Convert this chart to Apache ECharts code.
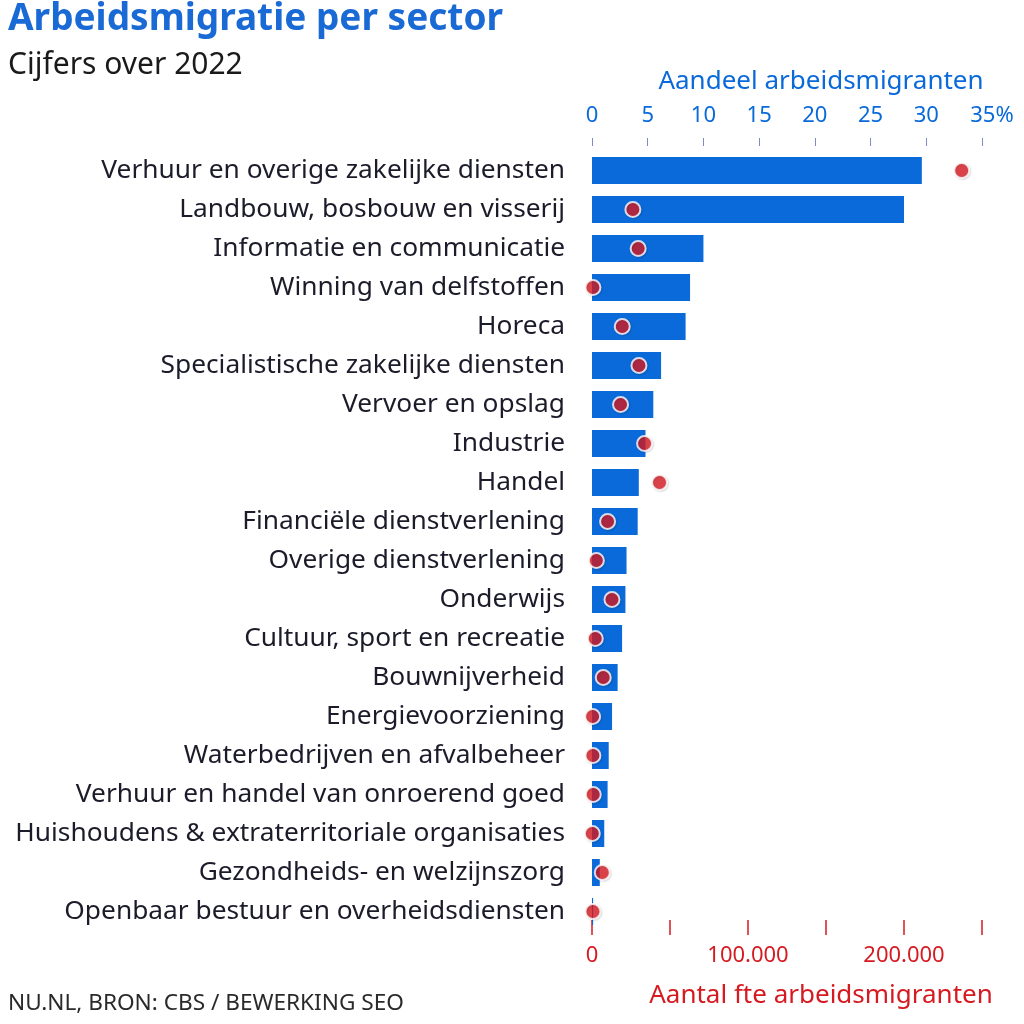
<!DOCTYPE html>
<html>
<head>
<meta charset="utf-8">
<script src="https://cdn.jsdelivr.net/npm/echarts@6/dist/echarts.min.js"></script>
<style>
  html, body { margin: 0; padding: 0; background: #fff; }
  #chart { width: 1024px; height: 1024px; }
</style>
</head>
<body>
<div id="chart"></div>
<script>
// sectoren, van boven naar beneden
const sectors = [
  'Verhuur en overige zakelijke diensten',
  'Landbouw, bosbouw en visserij',
  'Informatie en communicatie',
  'Winning van delfstoffen',
  'Horeca',
  'Specialistische zakelijke diensten',
  'Vervoer en opslag',
  'Industrie',
  'Handel',
  'Financiële dienstverlening',
  'Overige dienstverlening',
  'Onderwijs',
  'Cultuur, sport en recreatie',
  'Bouwnijverheid',
  'Energievoorziening',
  'Waterbedrijven en afvalbeheer',
  'Verhuur en handel van onroerend goed',
  'Huishoudens & extraterritoriale organisaties',
  'Gezondheids- en welzijnszorg',
  'Openbaar bestuur en overheidsdiensten'
];

// aandeel arbeidsmigranten (%)
const shareValues = [29.6, 28.0, 10.0, 8.8, 8.4, 6.2, 5.5, 4.8, 4.2, 4.1,
  3.1, 3.0, 2.7, 2.3, 1.8, 1.5, 1.4, 1.1, 0.7, 0.1];

// aantal fte arbeidsmigranten
const fteValues = [237000, 26200, 29600, 600, 19400, 30100, 18300, 33700, 43300, 10000,
  2800, 12800, 2100, 7200, 400, 600, 800, 200, 6600, 600];

const shareTicks = [0, 5, 10, 15, 20, 25, 30, 35];
const fteLabels = [0, 100000, 200000];

const blue = '#0a6ad9';
const red = '#d61a22';
const font = 'Noto Sans';

const chart = echarts.init(document.getElementById('chart'));

const fmtThousands = v => String(v).replace(/\B(?=(\d{3})+(?!\d))/g, '.');

const option = {
  animation: false,
  textStyle: { fontFamily: font },
  title: [
    {
      text: 'Arbeidsmigratie per sector',
      left: 3,
      top: -4,
      textStyle: { color: '#1a6ad6', fontSize: 37, fontWeight: 'bold', fontFamily: font }
    },
    {
      text: 'Cijfers over 2022',
      left: 3,
      top: 45,
      textStyle: { color: '#1a1a1a', fontSize: 30, fontWeight: 'normal', fontFamily: font }
    },
    {
      text: 'NU.NL, BRON: CBS / BEWERKING SEO',
      left: 3,
      top: 987,
      textStyle: { color: '#2a2a2a', fontSize: 22.6, fontWeight: 'normal', fontFamily: font }
    }
  ],
  grid: {
    left: 592,
    right: 42,
    top: 151,
    bottom: 93,
    containLabel: false
  },
  xAxis: [
    {
      type: 'value',
      position: 'top',
      min: 0,
      max: 35,
      interval: 5,
      offset: 5,
      name: 'Aandeel arbeidsmigranten',
      nameLocation: 'middle',
      nameGap: 51,
      nameTextStyle: { color: blue, fontSize: 26, padding: [0, 0, 0, 68] },
      axisLine: { show: false },
      axisTick: { show: true, length: 8, lineStyle: { color: '#7a8fc0', width: 1 } },
      splitLine: { show: false },
      axisLabel: {
        margin: 19,
        fontSize: 22,
        color: blue,
        formatter: v => (shareTicks.includes(v) ? (v === 35 ? '{p|35%}' : String(v)) : ''),
        rich: { p: { fontSize: 22, color: blue, padding: [0, 0, 0, 20] } }
      }
    },
    {
      type: 'value',
      position: 'bottom',
      min: 0,
      max: 250000,
      interval: 50000,
      offset: 4,
      name: 'Aantal fte arbeidsmigranten',
      nameLocation: 'middle',
      nameGap: 48,
      nameTextStyle: { color: red, fontSize: 26, padding: [0, 0, 0, 68] },
      axisLine: { show: false },
      axisTick: { show: true, inside: true, length: 15, lineStyle: { color: red, width: 1.5 } },
      splitLine: { show: false },
      axisLabel: {
        margin: 10,
        fontSize: 22,
        color: red,
        formatter: v => (fteLabels.includes(v) ? fmtThousands(v) : '')
      }
    }
  ],
  yAxis: {
    type: 'category',
    data: sectors,
    inverse: true,
    axisLine: { show: false },
    axisTick: { show: false },
    axisLabel: { fontSize: 26.3, color: '#1b1b2a', margin: 27 }
  },
  series: [
    {
      name: 'Aandeel',
      type: 'bar',
      xAxisIndex: 0,
      data: shareValues,
      barWidth: 27,
      itemStyle: { color: blue }
    },
    {
      name: 'Aantal fte',
      type: 'scatter',
      xAxisIndex: 1,
      data: fteValues.map((v, i) => [v, i]),
      symbolSize: 15,
      itemStyle: {
        color: red,
        borderColor: '#fff',
        borderWidth: 2,
        shadowBlur: 2,
        shadowColor: 'rgba(0,0,0,0.15)',
        shadowOffsetX: 1,
        shadowOffsetY: 1
      },
      z: 3
    }
  ]
};

chart.setOption(option);
</script>
</body>
</html>
